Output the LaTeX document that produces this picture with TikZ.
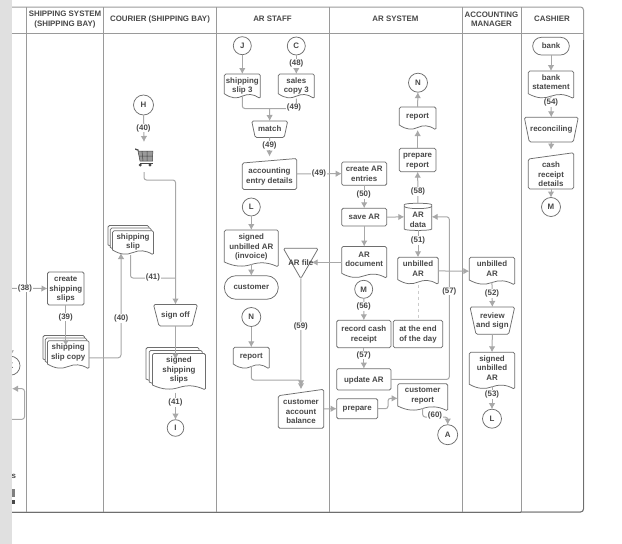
\documentclass[tikz,border=0pt]{standalone}
\usepackage{fontspec}
\setmainfont{Liberation Sans}
\usetikzlibrary{arrows.meta}
\definecolor{inkc}{HTML}{484848}
\definecolor{edgec}{HTML}{6E6E6E}
\definecolor{linkc}{HTML}{A8A8A8}
\definecolor{lanec}{HTML}{9A9A9A}
\tikzset{
  txt/.style={font=\bfseries\fontsize{7.9}{9.5}\selectfont,text=inkc,inner sep=0pt,outer sep=0pt},
  shp/.style={draw=edgec,line width=.75pt,fill=white,rounded corners=1.5pt},
  bx/.style={txt,draw=edgec,line width=.75pt,fill=white,rounded corners=#1},
  bx/.default=1.5pt,
  circ/.style={txt,circle,draw=edgec,line width=.75pt,fill=white,minimum size=#1},
  conn/.style={draw=linkc,line width=1pt,rounded corners=2.5pt},
  arr/.style={conn,-{Latex[length=6pt,width=6.5pt]}},
  lab/.style={txt,fill=white,inner sep=.6pt},
  hdr/.style={txt,align=center,font=\bfseries\fontsize{7.9}{9.5}\selectfont},
  lane/.style={draw=lanec,line width=1pt},
  wv/.style={shorten <=-3pt},
  sl/.style={shorten >=3pt}
}
\newcommand\inbox[4]{\vbox to #2pt{\hsize=#1pt\vss\vbox{\parindent=0pt\centering\strut #4\strut\par}\kern#3pt\vss}}
\newcommand\geom[5]{\pgfmathsetmacro\rW{#3-#1}\pgfmathsetmacro\rH{#4-#2}\pgfmathsetmacro\rX{(#1+#3)/2}\pgfmathsetmacro\rY{(#2+#4)/2}\pgfmathsetmacro\rK{-2*(#5-\rY)-2}}
\newcommand\docshape[4]{\pgfmathsetmacro\sW{#3-#1}
  \draw[shp] (#1,{#4-5}) -- (#1,#2) -- (#3,#2) -- (#3,#4) [sharp corners]
   .. controls ({#3-.2*\sW},{#4-5}) and ({#3-.35*\sW},{#4-5}) .. ({#3-.5*\sW},{#4-2.5})
   .. controls ({#3-.65*\sW},#4) and ({#3-.8*\sW},#4) .. (#1,{#4-5}) -- cycle;}
% name l t r b textcentre text
\newcommand\rectn[7]{\geom{#2}{#3}{#4}{#5}{#6}\node[bx] (#1) at (\rX,\rY) {\inbox{\rW}{\rH}{\rK}{#7}};}
\newcommand\pilln[7]{\geom{#2}{#3}{#4}{#5}{#6}\pgfmathsetmacro\rR{\rH/2-.1}\node[bx=\rR pt] (#1) at (\rX,\rY) {\inbox{\rW}{\rH}{\rK}{#7}};}
\newcommand\docn[7]{\docshape{#2}{#3}{#4}{#5}\geom{#2}{#3}{#4}{#5}{#6}\node[txt] (#1) at (\rX,\rY) {\inbox{\rW}{\rH}{\rK}{#7}};}
% name l t r b dx dy textcentre text (t = back top, l = back left)
\newcommand\stackn[9]{\pgfmathsetmacro\qL{#2+#6}\pgfmathsetmacro\qT{#3+#7}\pgfmathsetmacro\qR{#4-#6}\pgfmathsetmacro\qB{#5-#7}
  \pgfmathsetmacro\pL{#2+2*#6}\pgfmathsetmacro\pT{#3+2*#7}\pgfmathsetmacro\pR{#4-2*#6}\pgfmathsetmacro\pB{#5-2*#7}
  \docshape{#2}{#3}{\pR}{\pB}\docshape{\qL}{\qT}{\qR}{\qB}\docn{#1}{\pL}{\pT}{#4}{#5}{#8}{#9}}
% name l t r b inset textcentre text
\newcommand\trapn[8]{\draw[shp] (#2,#3) -- (#4,#3) -- ({#4-#6},#5) -- ({#2+#6},#5) -- cycle;
  \geom{#2}{#3}{#4}{#5}{#7}\node[txt] (#1) at (\rX,\rY) {\inbox{\rW}{\rH}{\rK}{#8}};}
% name l tl tr r b textcentre text
\newcommand\mann[8]{\draw[shp] (#2,#3) -- (#5,#4) -- (#5,#6) -- (#2,#6) -- cycle;
  \geom{#2}{#4}{#5}{#6}{#7}\node[txt] (#1) at (\rX,\rY) {\inbox{\rW}{\rH}{\rK}{#8}};}
\newcommand\lab[4]{\node[lab] (#1) at (#2,#3) {#4};}
\begin{document}
\begin{tikzpicture}[x=1pt,y=-1pt]
\useasboundingbox (0,0) rectangle (622,544);
\fill[white] (0,0) rectangle (622,544);
% lanes
\draw[lane] (26,7) -- (26,512);
\draw[lane] (103.7,7) -- (103.7,512);
\draw[lane] (216.3,7) -- (216.3,512);
\draw[lane] (329,7) -- (329,512);
\draw[lane] (462,7) -- (462,512);
\draw[lane] (521,7) -- (521,512);
\draw[lane] (12,33) -- (583.5,33);
\draw[draw=lanec,line width=1pt,rounded corners=3pt] (12,7) -- (583.5,7) -- (583.5,512) -- (12,512);
\draw[draw=edgec,line width=.8pt,rounded corners=3pt] (520,512) -- (583.5,512) -- (583.5,40);
\draw[draw=edgec,line width=.8pt] (12,512) -- (521,512);
% headers
\node[hdr] (h1) at (65,19.5) {SHIPPING SYSTEM\\(SHIPPING BAY)};
\node[hdr] (h2) at (160,19) {COURIER (SHIPPING BAY)};
\node[hdr] (h3) at (272.5,19) {AR STAFF};
\node[hdr] (h4) at (395.5,19) {AR SYSTEM};
\node[hdr] (h5) at (491.5,19.5) {ACCOUNTING\\MANAGER};
\node[hdr] (h6) at (552,19) {CASHIER};
% clipped remains at the left edge
\node[circ=19pt] (K) at (10.5,365.7) {K};
\draw[arr] (11,347) -- (K.north);
\coordinate (loopa) at (12,419.3);
\coordinate (loopb) at (12,388.7);
\draw[arr] (loopa) -- (24.5,419.3) -- (24.5,388.7) -- (loopb);
\node[txt,anchor=east] (strays) at (16,476.5) {ss};
\fill[inkc!70] (9,488.5) rectangle (15,497);
\fill[inkc] (9,499.5) rectangle (15,504);
% courier
\node[circ=20pt] (H) at (143.5,105) {H};
\node[txt,minimum width=20pt,minimum height=30pt] (cart) at (144,157) {};
\fill[inkc] (135,148.4) -- (138.6,149.6) -- (138.6,151) -- (135,149.6) -- cycle;
\fill[inkc!55] (138,151) -- (152.8,151) -- (152.6,161) -- (140,161) -- cycle;
\draw[inkc,line width=.5pt] (138,151) -- (152.8,151) -- (152.6,161) -- (140,161) -- cycle (142,151) -- (143,161) (147,151) -- (147,161) (139,156) -- (152.7,156);
\draw[inkc,line width=.8pt] (140,163) -- (152.6,163);
\fill[inkc] (140.2,165) circle (1.6) (150,165) circle (1.6);
\stackn{slip}{108}{225.5}{153.5}{255}{2.3}{2.6}{241}{shipping\\slip}
\trapn{signoff}{153.5}{304.5}{197.5}{326}{5.5}{314.5}{sign off}
\stackn{signed}{146}{347.5}{205.5}{390}{3.2}{3}{369.5}{signed\\shipping\\slips}
\node[circ=16.6pt] (I) at (175.5,428) {I};
% shipping system
\rectn{create}{47.5}{272}{84}{305}{288.3}{create\\shipping\\slips}
\stackn{copy}{43}{335.5}{89}{369}{2.2}{2.6}{351.5}{shipping\\slip copy}
% AR staff
\node[circ=18pt] (J) at (242.3,45.7) {J};
\node[circ=18pt] (C) at (296.3,46) {C};
\docn{slip3}{224.3}{74}{260.3}{98.7}{85}{shipping\\slip 3}
\docn{sales}{278.3}{74}{314.3}{98.7}{85}{sales\\copy 3}
\trapn{match}{251.7}{121}{287.7}{137.5}{3.5}{128.5}{match}
\mann{entry}{242.3}{163}{158.5}{296.7}{189.5}{175.8}{accounting\\entry details}
\node[circ=18pt] (L) at (251.3,207) {L};
\docn{invoice}{224.3}{230}{278.3}{267}{246.5}{signed\\unbilled AR\\(invoice)}
\pilln{customer}{224.3}{275.7}{278.3}{299.3}{286.5}{customer}
\node[circ=19pt] (N) at (251.3,317) {N};
\docn{report}{233.3}{347.3}{269.3}{369}{356}{report}
\draw[shp] (283.3,248.3) -- (318.3,248.3) -- (300.8,278.6) -- cycle;
\node[txt,minimum width=35pt,minimum height=30.3pt] (arfile) at (300.8,263.3) {};
\mann{balance}{278.3}{395.7}{389.3}{323.7}{428.3}{411.3}{customer\\account\\balance}
% AR system
\node[circ=19pt] (N2) at (418,82.7) {N};
\docn{report2}{399.3}{107}{436}{130}{115.8}{report}
\rectn{prepreport}{399.3}{148.3}{436}{171.7}{159.5}{prepare\\report}
\rectn{entries}{341.7}{162}{386.7}{185.3}{173.5}{create AR\\entries}
\rectn{save}{341.7}{208.3}{386.7}{226}{216.2}{save AR}
\draw[shp] (404.3,206.2) .. controls (404.3,202.8) and (431.7,202.8) .. (431.7,206.2) -- (431.7,227.5) .. controls (431.7,230.9) and (404.3,230.9) .. (404.3,227.5) -- cycle;
\draw[draw=edgec,line width=.75pt] (404.3,206.2) .. controls (404.3,209.4) and (431.7,209.4) .. (431.7,206.2);
\geom{404.3}{203.7}{431.7}{230}{219.8}
\node[txt] (ardata) at (\rX,\rY) {\inbox{\rW}{\rH}{\rK}{AR\\data}};
\docn{ardoc}{341.7}{246.5}{386.7}{278.3}{259}{AR\\document}
\docn{unb}{397.7}{257.3}{438.3}{284.6}{268.8}{unbilled\\AR}
\node[circ=18pt] (M) at (363.7,289.3) {M};
\rectn{record}{336.7}{320.3}{391}{347.7}{333.5}{record cash\\receipt}
\rectn{endday}{393.3}{320.3}{442.7}{347.7}{333.5}{at the end\\of the day}
\rectn{update}{336.7}{368.7}{391}{390}{379.3}{update AR}
\rectn{prepare}{336.7}{398.7}{377.7}{418.7}{408}{prepare}
\docn{creport}{397.7}{383.7}{447.7}{411}{394.5}{customer\\report}
\node[circ=20pt] (A) at (447.7,434.7) {A};
% accounting manager
\docn{unb2}{469.3}{257.3}{514.7}{285}{268.8}{unbilled\\AR}
\trapn{review}{470}{307}{514.7}{334.3}{6}{320}{review\\and sign}
\docn{signedar}{469.3}{352.3}{514.7}{389.3}{368}{signed\\unbilled\\AR}
\node[circ=19pt] (L2) at (492,418.7) {L};
% cashier
\pilln{bank}{532.7}{37.3}{569.3}{55}{45.5}{bank}
\docn{stmt}{528.3}{71}{573.7}{98.7}{82}{bank\\statement}
\trapn{recon}{524.3}{117.3}{578.3}{142}{5}{129}{reconciling}
\mann{cashdet}{528.3}{159}{152.7}{573.7}{189}{174.5}{cash\\receipt\\details}
\node[circ=19pt] (M2) at (551,207) {M};
% connectors
\draw[arr] (12,288.3) -- (create.west);
\draw[arr] (create.south) -- ([yshift=-5.2pt]copy.north -| create.south);
\draw[arr] (H) -- (cart.north);
\draw[arr] (cart.south) -- ++(0,8) -| (signoff.north);
\draw[arr,rounded corners=3pt] ([yshift=-3pt]copy.east) -| (121,253);
\draw[conn] (130.5,255) |- (175.5,278);
\draw[arr] (signoff.south) -- ([yshift=-6pt]signoff.south |- signed.north);
\draw[arr] ([yshift=-2.5pt]signed.south -| I) -- (I);
\draw[arr] (J) -- (slip3.north);
\draw[arr] (C) -- (sales.north);
\draw[conn,wv] (slip3.south) -- ++(0,9.8) -| (sales.south);
\coordinate (j49) at (269.5,108.5);
\draw[arr] (j49) -- (match.north);
\draw[arr] (match.south) -- ([yshift=2pt]entry.north);
\draw[arr] (entry.east) -- (entries.west);
\draw[arr] (entries.south) -- (save.north);
\draw[arr] (save.east) -- (ardata.west);
\draw[arr] (save.south) -- (ardoc.north);
\draw[arr] (ardoc.west) -- ([xshift=-6.6pt]ardoc.west -| arfile.east);
\draw[arr] (arfile.south) -- (balance.north);
\draw[arr] (L) -- (invoice.north);
\draw[arr,wv] (invoice.south) -- (customer.north);
\draw[arr] (N) -- (report.north);
\draw[arr,wv] (report.south) -- ++(0,11) -| ([yshift=3pt]balance.north);
\draw[arr] (balance.east) -- (prepare.west);
\draw[arr] (prepare.east) -- ++(10.3,0) |- ([yshift=-1pt]creport.west);
\draw[arr,wv] (creport.south) -- ++(0,6) -| (A.north);
\draw[arr] (update.east) -- ++(58.3,0) |- (ardata.east);
\draw[arr] (record.south) -- (update.north);
\draw[arr] (M) -- (record.north);
\draw[draw=linkc!60,line width=1pt,dashed] (unb.south) -- (endday.north -| unb.south);
\draw[arr] (ardata.south) -- (unb.north);
\draw[arr] (ardata.north) -- (prepreport.south);
\draw[arr] (prepreport.north) -- (report2.south);
\draw[arr] (report2.north) -- (N2);
\draw[arr] (unb.east) -- (unb2.west);
\draw[arr,wv] (unb2.south) -- (review.north);
\draw[arr] (review.south) -- (signedar.north);
\draw[arr,wv] (signedar.south) -- (L2);
\draw[arr] (bank.south) -- (stmt.north);
\draw[arr,wv] (stmt.south) -- (recon.north);
\draw[arr] (recon.south) -- ([yshift=3pt]cashdet.north);
\draw[arr] (cashdet.south) -- (M2);
% connector labels
\lab{l38}{25}{288}{(38)}
\lab{l39}{65.7}{317}{(39)}
\lab{l40a}{143.5}{128}{(40)}
\lab{l40b}{121.2}{318.3}{(40)}
\lab{l41a}{153}{277.5}{(41)}
\lab{l41b}{175.5}{402.5}{(41)}
\lab{l48}{296.3}{63.5}{(48)}
\lab{l49a}{294}{107.7}{(49)}
\lab{l49b}{269.5}{145.5}{(49)}
\lab{l49c}{319}{173.5}{(49)}
\lab{l50}{363.7}{194.7}{(50)}
\lab{l51}{418}{240.3}{(51)}
\lab{l52}{492}{293.7}{(52)}
\lab{l53}{492}{394.7}{(53)}
\lab{l54}{551}{102.7}{(54)}
\lab{l56}{363.7}{306.7}{(56)}
\lab{l57a}{363.7}{355}{(57)}
\lab{l57b}{449.3}{291}{(57)}
\lab{l58}{418}{191.5}{(58)}
\lab{l59}{300.8}{326}{(59)}
\lab{l60}{435}{415.7}{(60)}
\node[txt] (arfiletext) at (300.8,262.5) {AR file};
% browser side bar
\fill[black!12] (0,0) rectangle (11.8,544);
\end{tikzpicture}
\end{document}
